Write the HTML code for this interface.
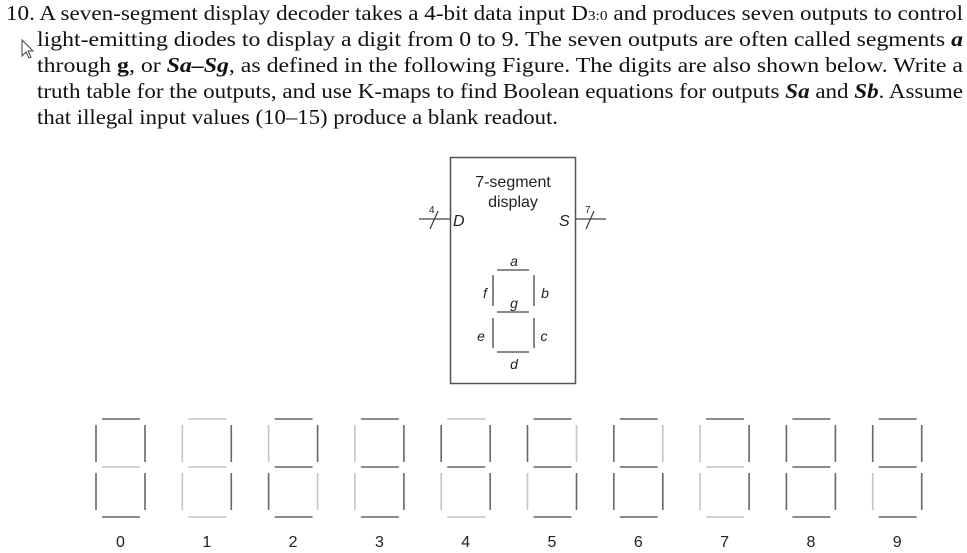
<!DOCTYPE html>
<html><head><meta charset="utf-8"><style>
body{margin:0;width:967px;height:553px;background:#fff;position:relative;overflow:hidden;font-family:"Liberation Serif",serif;color:#111}
.l{position:absolute;font-size:21px;line-height:26px;white-space:nowrap;transform-origin:0 0;}
svg{position:absolute;left:0;top:0}
</style></head><body>
<div class="l" data-w="957" style="left:6px;top:0px">10. A seven-segment display decoder takes a 4-bit data input D<span style="font-size:14px">3:0</span> and produces seven outputs to control</div>
<div class="l" data-w="926" style="left:37px;top:26px">light-emitting diodes to display a digit from 0 to 9. The seven outputs are often called segments <b><i>a</i></b></div>
<div class="l" data-w="926" style="left:37px;top:52px">through <b>g</b>, or <b><i>Sa–Sg</i></b>, as defined in the following Figure. The digits are also shown below. Write a</div>
<div class="l" data-w="926" style="left:37px;top:78px">truth table for the outputs, and use K-maps to find Boolean equations for outputs <b><i>Sa</i></b> and <b><i>Sb</i></b>. Assume</div>
<div class="l" data-w="521" style="left:37px;top:104px">that illegal input values (10–15) produce a blank readout.</div>
<svg width="967" height="553" font-family="Liberation Sans, sans-serif">
<path d="M22 40 L22 56 L26 52 L29 58 L31 57 L28 51 L33 51 Z" fill="#fff" stroke="#444" stroke-width="1"/>
<rect x="450.5" y="157.5" width="125" height="226" fill="none" stroke="#555" stroke-width="1.5"/>
<text x="513" y="187" font-size="16" text-anchor="middle" fill="#222">7-segment</text>
<text x="513" y="207" font-size="16" text-anchor="middle" fill="#222">display</text>
<text x="453" y="226" font-size="16" font-style="italic" fill="#222">D</text>
<text x="559" y="226" font-size="16" font-style="italic" fill="#222">S</text>
<g stroke="#444" stroke-width="1.3">
<line x1="419" y1="219" x2="450" y2="219"/><line x1="430" y1="229" x2="438" y2="211"/>
<line x1="576" y1="219" x2="606" y2="219"/><line x1="586" y1="229" x2="594" y2="211"/>
<line x1="497" y1="270" x2="529" y2="270"/><line x1="497" y1="312" x2="529" y2="312"/><line x1="497" y1="352" x2="529" y2="352"/>
<line x1="493" y1="275" x2="493" y2="306"/><line x1="493" y1="318" x2="493" y2="348"/>
<line x1="534" y1="275" x2="534" y2="306"/><line x1="534" y1="318" x2="534" y2="348"/>
</g>
<text x="429" y="213" font-size="10" fill="#222">4</text><text x="585" y="213" font-size="10" fill="#222">7</text>
<g font-size="14" font-style="italic" fill="#222" text-anchor="middle">
<text x="514" y="266">a</text><text x="485" y="298">f</text><text x="545" y="298">b</text><text x="514" y="308">g</text>
<text x="481" y="341">e</text><text x="544" y="341">c</text><text x="514" y="369">d</text></g>
<g id="digits"></g>
</svg>
<script>
var on=["abcdef","bc","abdeg","abcdg","bcfg","acdfg","acdefg","abc","abcdefg","abcdfg"];
var s="";
for(var i=0;i<10;i++){var x=96+i*86.3;var m=on[i];
function seg(k,x1,y1,x2,y2){s+='<line x1="'+x1+'" y1="'+y1+'" x2="'+x2+'" y2="'+y2+'" stroke="'+(m.indexOf(k)>=0?"#666":"#c4c4c4")+'" stroke-width="1.6"/>';}
seg("a",x+6,419,x+44,419);seg("g",x+6,467,x+44,467);seg("d",x+6,517,x+44,517);
seg("f",x,425,x,462);seg("e",x,473,x,510);seg("b",x+49,425,x+49,462);seg("c",x+49,473,x+49,510);
s+='<text x="'+(x+24.5)+'" y="547" font-size="16" text-anchor="middle" fill="#222">'+i+'</text>';}
document.getElementById("digits").innerHTML=s;
var ls=document.querySelectorAll(".l");
for(var j=0;j<ls.length;j++){var e=ls[j];var w=e.getBoundingClientRect().width;var t=+e.getAttribute("data-w");e.style.transform="scaleX("+(t/w)+")";}
</script>
</body></html>
